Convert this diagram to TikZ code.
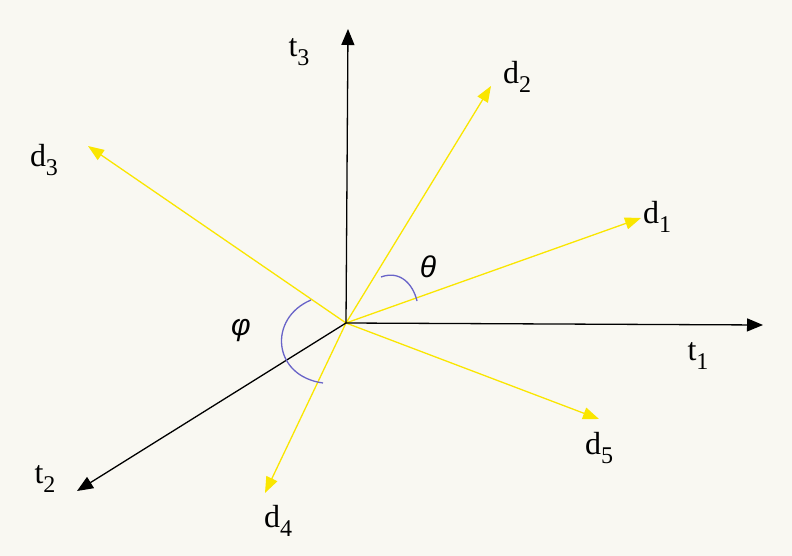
\documentclass[tikz,border=0pt]{standalone}
\usepackage{fontspec}
\setmainfont{Liberation Serif}
\newfontfamily\grk{Liberation Sans}
\usetikzlibrary{arrows.meta}
\definecolor{bg}{RGB}{249,248,242}
\definecolor{yel}{RGB}{250,230,0}
\definecolor{arcc}{RGB}{105,100,200}
\newcommand{\lab}[2]{#1\raisebox{-0.3em}{\fontsize{24}{24}\selectfont #2}}
\tikzset{
  axis/.style={black, line width=1.3pt, -{Triangle[length=16pt,width=13pt]}},
  vec/.style={yel, line width=1.3pt, -{Triangle[length=16pt,width=12pt]}},
  arcline/.style={arcc, line width=1.3pt},
  lbl/.style={inner sep=0pt, font=\fontsize{32}{32}\selectfont},
  glbl/.style={inner sep=0pt, font=\fontsize{30}{30}\selectfont\grk\itshape}
}
\begin{document}
\begin{tikzpicture}[x=1pt,y=-1pt]
\fill[bg] (0,0) rectangle (792,556);
\useasboundingbox (0,0) rectangle (792,556);
\coordinate (O) at (346,323);
\coordinate (T1) at (763,325);
\coordinate (T3) at (348,29);
\coordinate (T2) at (77,491);
\coordinate (D1) at (641,218);
\coordinate (D2) at (491,86);
\coordinate (D3) at (88,146);
\coordinate (D4) at (265,493);
\coordinate (D5) at (599,419);
\draw[vec] (O) -- (D1);
\draw[vec] (O) -- (D2);
\draw[vec] (O) -- (D3);
\draw[vec] (O) -- (D4);
\draw[vec] (O) -- (D5);
\draw[axis] (O) -- (T1);
\draw[axis] (O) -- (T3);
\draw[axis] (O) -- (T2);
\coordinate (a1) at (381,277);
\coordinate (a2) at (417,301);
\draw[arcline] (a1) .. controls (400,270) and (413,284) .. (a2);
\coordinate (b1) at (311,300);
\coordinate (b2) at (323,383);
\draw[arcline] (b1) .. controls (268,318) and (272,376) .. (b2);
\node[lbl] (lt3) at (299,52) {\lab{t}{3}};
\node[lbl] (lt1) at (698,356) {\lab{t}{1}};
\node[lbl] (lt2) at (45,479) {\lab{t}{2}};
\node[lbl] (ld1) at (657,217) {\lab{d}{1}};
\node[lbl] (ld2) at (517,77) {\lab{d}{2}};
\node[lbl] (ld3) at (44,160) {\lab{d}{3}};
\node[lbl] (ld4) at (278,521) {\lab{d}{4}};
\node[lbl] (ld5) at (599,448) {\lab{d}{5}};
\node[glbl] (th) at (428,267) {θ};
\node[glbl] (ph) at (241,331) {φ};
\end{tikzpicture}
\end{document}
